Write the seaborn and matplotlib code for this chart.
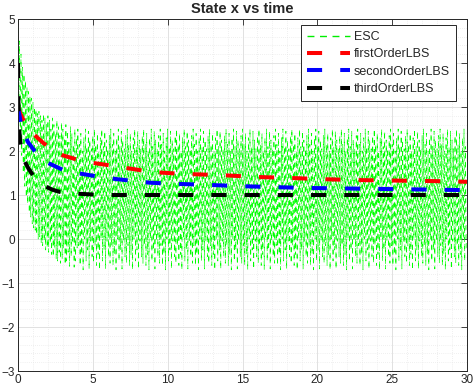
import numpy as np
import pandas as pd
import seaborn as sns
import matplotlib.pyplot as plt
from matplotlib.ticker import MultipleLocator

# ESC: fast dither oscillation, turning points (half period 0.05 s)
esc_half_period = 0.05
esc_hi_start = [5.0, 4.5, 4.2, 3.9, 3.75, 3.6, 3.45, 3.35, 3.25, 3.2,
                3.1, 3.0, 2.95, 2.85, 2.9, 2.8, 2.7, 2.85, 2.75, 2.6,
                2.8, 2.7, 2.5, 2.75, 2.6, 2.4, 2.7, 2.55, 2.35, 2.65,
                2.5, 2.3, 2.6, 2.45, 2.2, 2.55, 2.4, 2.15, 2.5, 2.3]
esc_lo_start = [3.2, 2.4, 1.9, 1.5, 1.2, 0.95, 0.8, 0.6, 0.5, 0.35,
                0.25, 0.2, 0.1, 0.0, 0.05, -0.1, -0.15, -0.05, -0.25, -0.2,
                -0.3, -0.1, -0.35, -0.4, -0.2, -0.45, -0.5, -0.3, -0.55, -0.45,
                -0.2, -0.58, -0.5, -0.3, -0.62, -0.4, -0.1, -0.64, -0.5, -0.2]
esc_hi_cycle = [2.5, 2.15, 2.4, 2.0, 2.3, 2.5, 2.1, 2.45, 2.25, 2.05, 2.35]
esc_lo_cycle = [-0.15, -0.6, -0.35, -0.7, 0.0, -0.5, -0.25, -0.68, -0.05, -0.4, -0.55]
esc_n_cycles = 300

# LBS estimates
t_first = [0, 0.05, 0.15, 0.3, 0.5, 0.7, 1.0, 1.3, 1.7, 2.3, 3.0, 4.0, 5.0, 6.0, 7.5,
           9.0, 11.0, 13.7, 15.9, 18.0, 20.3, 22.5, 24.7, 26.8, 29.0, 30]
x_first = [3.0, 2.95, 2.85, 2.75, 2.62, 2.53, 2.4, 2.3, 2.18, 2.03, 1.9, 1.8, 1.73, 1.68, 1.6,
           1.52, 1.48, 1.45, 1.41, 1.39, 1.36, 1.34, 1.33, 1.32, 1.31, 1.30]
t_second = [0, 0.1, 0.27, 0.67, 1.0, 1.47, 2.0, 3.0, 4.1, 5.5, 6.6, 7.7, 8.8, 10.0, 12.7,
            15.0, 17.0, 19.3, 21.5, 23.8, 26.0, 28.0, 30]
x_second = [3.0, 2.8, 2.5, 2.2, 2.05, 1.86, 1.73, 1.57, 1.49, 1.41, 1.36, 1.32, 1.28, 1.26,
            1.23, 1.20, 1.18, 1.16, 1.15, 1.14, 1.13, 1.12, 1.11]
t_third = [0, 0.03, 0.08, 0.15, 0.3, 0.47, 0.7, 1.0, 1.4, 1.8, 2.3, 2.8, 3.5, 4.0, 5.0, 6.0, 30]
x_third = [4.0, 3.0, 2.5, 2.2, 1.95, 1.75, 1.6, 1.45, 1.3, 1.2, 1.12, 1.07, 1.04, 1.03, 1.01,
           1.0, 1.0]

n_rep = esc_n_cycles - len(esc_hi_start)
esc_hi = esc_hi_start + (esc_hi_cycle * (n_rep // len(esc_hi_cycle) + 1))[:n_rep]
esc_lo = esc_lo_start + (esc_lo_cycle * (n_rep // len(esc_lo_cycle) + 1))[:n_rep]
esc_x = np.column_stack([esc_hi, esc_lo]).ravel()
esc_t = np.arange(len(esc_x)) * esc_half_period

sns.set_theme(style="white")
plt.rcParams['font.family'] = ['Liberation Sans', 'DejaVu Sans']

fig = plt.figure(figsize=(4.74, 3.92), dpi=100)
ax = fig.add_axes([18/474, 1-371/392, 449/474, 352/392])

sns.lineplot(x=esc_t, y=esc_x, ax=ax, color='#00ff00', lw=0.5, label='ESC', sort=False)
ax.lines[-1].set_dashes((7, 6))
for t, x, c, lab in [(t_first, x_first, '#ff0000', 'firstOrderLBS'),
                     (t_second, x_second, '#0000ff', 'secondOrderLBS'),
                     (t_third, x_third, '#000000', 'thirdOrderLBS')]:
    sns.lineplot(x=t, y=x, ax=ax, color=c, lw=2.9, label=lab, sort=False)
    ax.lines[-1].set_dashes((3.75, 4.5))
    ax.lines[-1].set_dash_capstyle('butt')

ax.set_xlim(0, 30)
ax.set_ylim(-3, 5)
ax.xaxis.set_major_locator(MultipleLocator(5))
ax.xaxis.set_minor_locator(MultipleLocator(1))
ax.yaxis.set_major_locator(MultipleLocator(1))
ax.yaxis.set_minor_locator(MultipleLocator(0.2))
ax.grid(True, which='major', color='#dcdcdc', lw=0.6)
ax.grid(True, which='minor', color='#e2e2e2', lw=0.5, ls=(0, (1, 2)))
ax.set_axisbelow(True)
ax.tick_params(which='major', direction='in', length=4, width=0.6, top=True, right=True,
               labelsize=8.5, pad=2, colors='#262626')
ax.tick_params(which='minor', length=0)
for s in ax.spines.values():
    s.set_color('#262626')
    s.set_linewidth(0.7)

ax.set_title('State x vs time', fontsize=10.5, fontweight='bold', pad=4)

leg = ax.legend(loc='upper right', bbox_to_anchor=(0.9755, 0.983), borderaxespad=0,
                fontsize=9, handlelength=3.4, handletextpad=0.3, labelspacing=0.42,
                borderpad=0.5, fancybox=False, framealpha=1, edgecolor='#262626')
leg.get_frame().set_linewidth(0.7)
esc_handle = leg.get_lines()[0]
esc_handle.set_linewidth(1.0)
esc_handle.set_color('#00ee00')
esc_handle.set_dashes((5, 4))

fig.savefig('out.png', dpi=100)
